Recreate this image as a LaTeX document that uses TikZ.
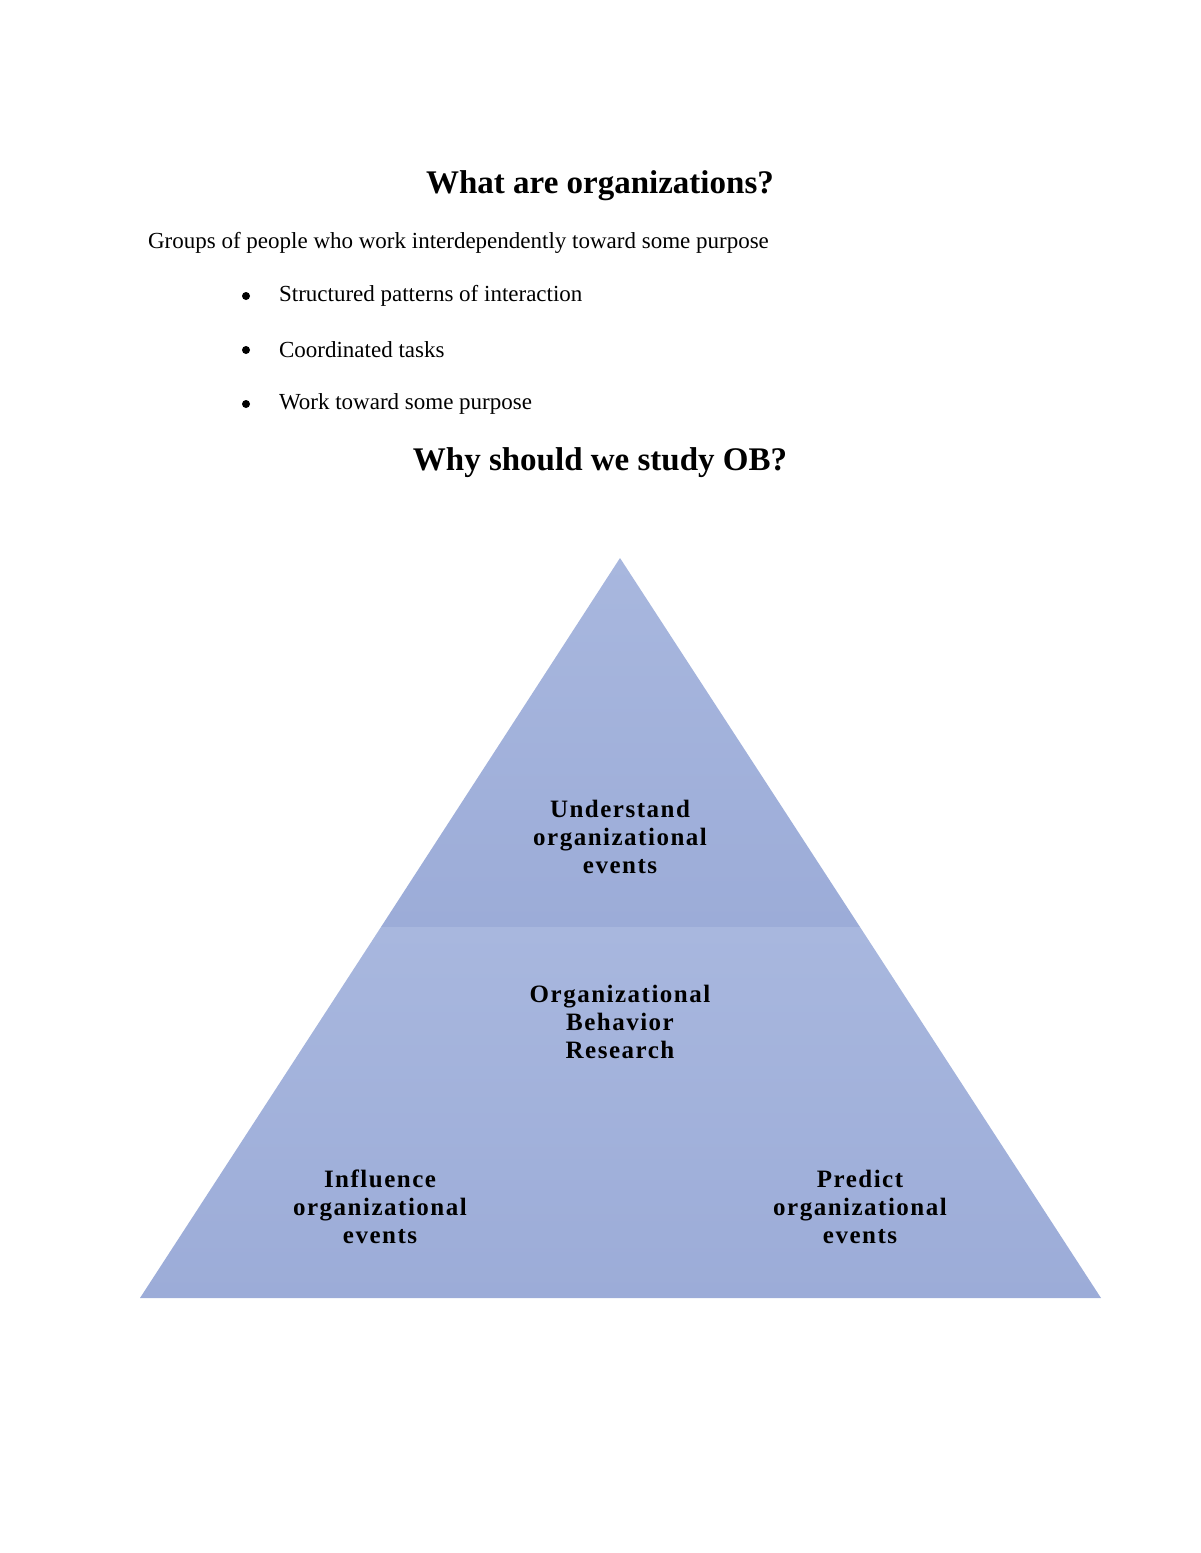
\documentclass[tikz,border=0pt]{standalone}
\usepackage{fontspec}
\setmainfont{Liberation Serif}
\newfontfamily\pyr[LetterSpace=6]{Liberation Serif}
\begin{document}
\begin{tikzpicture}[x=0.5pt,y=-0.5pt,
  ttl/.style={font=\bfseries\fontsize{16.5}{20}\selectfont},
  body/.style={font=\fontsize{11.5}{14}\selectfont, anchor=west},
  pt/.style={font=\pyr\bfseries\fontsize{12.5}{14}\selectfont, align=center}]
\useasboundingbox (0,0) rectangle (1200,1553);
\node[ttl] (t1) at (600,186) {What are organizations?};
\node[body] (g) at (141,243) {Groups of people who work interdependently toward some purpose};
\foreach \y/\t [count=\i] in {296/Structured patterns of interaction,350/Coordinated tasks,404/Work toward some purpose}{
  \fill (246,\y) circle (4);
  \node[body] (b\i) at (272,\y) {\t};
}
\node[ttl] (t2) at (600,463) {Why should we study OB?};
\shade[top color={rgb,255:red,168;green,183;blue,222}, bottom color={rgb,255:red,156;green,172;blue,216}]
  (620,558) -- (860,927) -- (381,927) -- cycle;
\shade[top color={rgb,255:red,168;green,183;blue,222}, bottom color={rgb,255:red,156;green,172;blue,216}]
  (381,927) -- (860,927) -- (1101,1298) -- (140,1298) -- cycle;
\node[pt] (u) at (620,837) {Understand\\organizational\\events};
\node[pt] (o) at (620,1022) {Organizational\\Behavior\\Research};
\node[pt] (i) at (380,1207) {Influence\\organizational\\events};
\node[pt] (p) at (860,1207) {Predict\\organizational\\events};
\end{tikzpicture}
\end{document}
